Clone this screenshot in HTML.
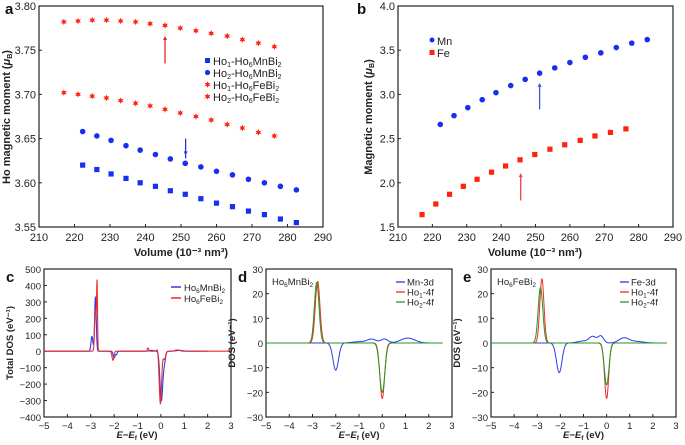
<!DOCTYPE html>
<html><head><meta charset="utf-8">
<style>
html,body{margin:0;padding:0;background:#fff;}
svg{display:block;font-family:"Liberation Sans",Arial,sans-serif;}
.tk{font-size:11px;fill:#222;}
.tks{font-size:9.5px;fill:#222;}
.ttl{font-size:11px;font-weight:bold;fill:#222;}
.ttls{font-size:9.5px;font-weight:bold;fill:#222;}
.pl{font-size:15px;font-weight:bold;fill:#111;}
</style></head>
<body>
<svg id="fig" width="685" height="445" viewBox="0 0 685 445"></svg>
<script>
// ---- panel a data ----
const volMn = [222.3,226.3,230.3,234.5,238.5,242.8,247,251.2,255.6,260,264.5,269,273.5,278,282.5];
const volFe = [217,221,225,229,233,237.2,241.3,245.5,249.8,254.2,258.5,263,267.3,271.8,276.3];
const ho1Mn = [3.620,3.615,3.610,3.605,3.600,3.596,3.591,3.587,3.582,3.577,3.573,3.568,3.564,3.559,3.555];
const ho2Mn = [3.658,3.653,3.648,3.642,3.637,3.632,3.627,3.622,3.618,3.613,3.609,3.604,3.600,3.596,3.592];
const ho1Fe = [3.702,3.700,3.698,3.696,3.693,3.690,3.687,3.683,3.679,3.675,3.671,3.666,3.662,3.657,3.653];
const ho2Fe = [3.782,3.783,3.784,3.784,3.783,3.782,3.780,3.778,3.775,3.772,3.769,3.766,3.762,3.758,3.754];
const aYTicks = [3.55,3.60,3.65,3.70,3.75,3.80];
const volTicks = [210,220,230,240,250,260,270,280,290];
// ---- panel b data ----
const momMn = [2.66,2.76,2.85,2.94,3.02,3.10,3.17,3.24,3.30,3.36,3.42,3.47,3.53,3.58,3.62];
const momFe = [1.64,1.76,1.87,1.96,2.04,2.12,2.19,2.26,2.32,2.38,2.43,2.48,2.53,2.57,2.61];
const bYTicks = [1.5,2.0,2.5,3.0,3.5,4.0];
// ---- DOS peaks: [center eV, height, width] ----
const eTicks = [-5,-4,-3,-2,-1,0,1,2,3];
const cYTicks = [-400,-300,-200,-100,0,100,200,300,400,500];
const pdYTicks = [-30,-20,-10,0,10,20,30];
const totMn = [[-2.8,330,0.035],[-2.95,90,0.04],[-2.0,-40,0.04],[-1.9,-20,0.03],[0.02,-300,0.06],[0.15,-60,0.05],[-0.4,5,0.1],[0.8,5,0.15]];
const totFe = [[-2.73,400,0.02],[-2.8,250,0.035],[-2.05,-55,0.04],[-0.02,-320,0.05],[0.15,-50,0.05],[-0.55,20,0.03],[-0.15,15,0.03],[0.7,8,0.1]];
const dMn3d = [[-2.0,-11,0.12],[-0.45,1.5,0.2],[0.1,1.6,0.15],[1.1,2.0,0.3],[-1.0,0.5,0.3]];
const dHo1 = [[-2.78,25,0.1],[0.0,-22.5,0.1]];
const dHo2 = [[-2.82,24.5,0.1],[0.0,-20,0.11]];
const eFe3d = [[-2.05,-12,0.12],[-0.6,2.5,0.15],[-0.25,2.8,0.12],[0.75,2.0,0.22],[-1.0,0.8,0.25],[1.3,0.6,0.3]];
const eHo1 = [[-2.8,26,0.09],[0.0,-22.5,0.09]];
const eHo2 = [[-2.86,22.5,0.1],[0.0,-17,0.1]];

const NS="http://www.w3.org/2000/svg";
const svg=document.getElementById('fig');
function mk(tag,attrs,parent,text){const e=document.createElementNS(NS,tag);for(const k in attrs)e.setAttribute(k,attrs[k]);if(text!==undefined)e.textContent=text;(parent||svg).appendChild(e);return e;}
function lin(d0,d1,r0,r1){return v=>r0+(v-d0)*(r1-r0)/(d1-d0);}
const defs=mk('defs',{});

function axesBox(name,L,R,T,B,xs,ys,xt,yt,fmtY,cls){
  const g=mk('g',{});
  
  
  mk('rect',{x:L,y:T,width:R-L,height:B-T,fill:'none',stroke:'#222','stroke-width':1.2},g);
  xt.forEach(v=>{const x=xs(v);mk('line',{x1:x,x2:x,y1:B,y2:B-3,stroke:'#222'},g);
    mk('text',{x:x,y:B+(cls==='tk'?14:12),'text-anchor':'middle',class:cls},g,(v<0?'\u2212'+(-v):String(v)));});
  yt.forEach(v=>{const y=ys(v);mk('line',{x1:L,x2:L+3,y1:y,y2:y,stroke:'#222'},g);
    mk('text',{x:L-3,y:y+4,'text-anchor':'end',class:cls},g,fmtY(v));});
  return g;
}
function star(g,x,y){const p=[];for(let i=0;i<12;i++){const r=i%2?1.6:3.4;const a=Math.PI*i/6;p.push((x+r*Math.sin(a)).toFixed(2)+','+(y-r*Math.cos(a)).toFixed(2));}
  return mk('polygon',{points:p.join(' '),fill:'#f21'},g);}
function arrow(x,y0,y1,col){mk('line',{x1:x,x2:x,y1:y0,y2:y1+3,stroke:col,'stroke-width':1.3});
  const d=y1<y0?-1:1; mk('polygon',{points:`${x-2},${y1-d*4} ${x+2},${y1-d*4} ${x},${y1}`,fill:col});}
function muLabel(x,y,txt){const t=mk('text',{x:0,y:0,'text-anchor':'middle',class:'ttl',transform:`translate(${x},${y}) rotate(-90)`});
  mk('tspan',{},t,txt+' (');mk('tspan',{'font-style':'italic'},t,'μ');mk('tspan',{'font-size':'7px',dy:2},t,'B');mk('tspan',{dy:-2},t,')');}

// ===== panel a =====
{const L=39,R=323,T=6,B=227;const xs=lin(210,290,L,R),ys=lin(3.55,3.80,B,T);
 axesBox('panel-a-axes',L,R,T,B,xs,ys,volTicks,aYTicks,v=>v.toFixed(2),'tk');
 const g=mk('g',{});
 volMn.forEach((v,i)=>{const s=mk('rect',{x:xs(v)-2.6,y:ys(ho1Mn[i])-2.6,width:5.2,height:5.2,fill:'#1530ee'},g);});
 volMn.forEach((v,i)=>{const s=mk('circle',{cx:xs(v),cy:ys(ho2Mn[i]),r:2.8,fill:'#1530ee'},g);});
 volFe.forEach((v,i)=>{const s=star(g,xs(v),ys(ho1Fe[i]));});
 volFe.forEach((v,i)=>{const s=star(g,xs(v),ys(ho2Fe[i]));});
 arrow(xs(245.5),ys(3.735),ys(3.766),'#e22');
 arrow(xs(251.3),ys(3.650),ys(3.631),'#2233dd');
 mk('text',{x:5,y:14,class:'pl'},null,'a');
 mk('text',{x:181,y:256,'text-anchor':'middle',class:'ttl'},null,'Volume (10⁻³ nm³)');
 muLabel(10,117,'Ho magnetic moment');
 const lg=mk('g',{});
 const labs=[['Ho','1','-Ho','6','MnBi','2'],['Ho','2','-Ho','6','MnBi','2'],['Ho','1','-Ho','6','FeBi','2'],['Ho','2','-Ho','6','FeBi','2']];
 labs.forEach((l,i)=>{const y=61+i*12;
  if(i==0)mk('rect',{x:205,y:y-3,width:5,height:5,fill:'#1530ee'},lg);
  else if(i==1)mk('circle',{cx:207.5,cy:y-0.5,r:2.6,fill:'#1530ee'},lg);
  else star(lg,207.5,y-0.5);
  const t=mk('text',{x:213,y:y+4,class:'tk'},lg);
  l.forEach((s,j)=>{mk('tspan',j%2?{'font-size':'7px',dy:2}:{dy:j?-2:0},t,s);});
 });}

// ===== panel b =====
{const L=398,R=673,T=6,B=227;const xs=lin(210,290,L,R),ys=lin(1.5,4.0,B,T);
 axesBox('panel-b-axes',L,R,T,B,xs,ys,volTicks,bYTicks,v=>v.toFixed(1),'tk');
 const g=mk('g',{});
 volMn.forEach((v,i)=>{const s=mk('circle',{cx:xs(v),cy:ys(momMn[i]),r:2.8,fill:'#1530ee'},g);});
 volFe.forEach((v,i)=>{const s=mk('rect',{x:xs(v)-2.6,y:ys(momFe[i])-2.6,width:5.2,height:5.2,fill:'#f21'},g);});
 arrow(xs(251.2),ys(2.83),ys(3.13),'#4455dd');
 arrow(xs(245.7),ys(1.80),ys(2.11),'#e44');
 mk('text',{x:357,y:14,class:'pl'},null,'b');
 mk('text',{x:535,y:256,'text-anchor':'middle',class:'ttl'},null,'Volume (10⁻³ nm³)');
 muLabel(372,117,'Magnetic moment');
 const lg=mk('g',{});
 mk('circle',{cx:432,cy:40,r:2.5,fill:'#1530ee'},lg);mk('text',{x:437,y:45,class:'tk'},lg,'Mn');
 mk('rect',{x:429.5,y:50,width:5,height:5,fill:'#f21'},lg);mk('text',{x:437,y:57,class:'tk'},lg,'Fe');}

// ===== DOS panels =====
function curve(peaks,e0,e1){const pts=[];for(let e=e0;e<=e1+1e-9;e+=0.01){let v=0;peaks.forEach(p=>{v+=p[1]*Math.exp(-0.5*((e-p[0])/p[2])**2);});pts.push([e,v]);}return pts;}
function drawCurve(name,peaks,xs,ys,col,w,e1,clip){const pts=curve(peaks,-5,e1);
  const p=mk('path',{d:'M'+pts.map(q=>xs(q[0]).toFixed(2)+','+ys(q[1]).toFixed(2)).join('L'),fill:'none',stroke:col,'stroke-width':w,'stroke-linejoin':'round','clip-path':`url(#${clip})`});
  }
function sub(t,parts){parts.forEach((s,j)=>mk('tspan',j%2?{'font-size':'6.5px',dy:2}:{dy:j?-2:0},t,s));}
function eLabel(x,y){const t=mk('text',{x:x,y:y,'text-anchor':'middle',class:'ttls'});
  mk('tspan',{'font-style':'italic'},t,'E');mk('tspan',{},t,'−');mk('tspan',{'font-style':'italic'},t,'E');
  mk('tspan',{'font-size':'6.5px',dy:2},t,'f');mk('tspan',{dy:-2},t,' (eV)');}
function clipRect(id,L,R,T,B){const c=mk('clipPath',{id:id},defs);mk('rect',{x:L,y:T,width:R-L,height:B-T},c);}

// c
{const L=44,R=231,T=269,B=417;const xs=lin(-5,3,L,R),ys=lin(-400,500,B,T);
 clipRect('clipc',L,R,T-3,B);
 axesBox('panel-c-axes',L,R,T,B,xs,ys,eTicks,cYTicks,v=>v<0?'\u2212'+(-v):String(v),'tks');
 drawCurve('total-dos-mn',totMn,xs,ys,'#2a3be8',1.1,2.0,'clipc');
 drawCurve('total-dos-fe',totFe,xs,ys,'#f02a2a',1.1,3.0,'clipc');
 mk('text',{x:6,y:282,class:'pl'},null,'c');
 eLabel(137,438);
 mk('text',{x:0,y:0,'text-anchor':'middle',class:'ttls',transform:'translate(13,343) rotate(-90)'},null,'Total DOS (eV⁻¹)');
 const lg=mk('g',{});
 mk('line',{x1:171,x2:181,y1:287,y2:287,stroke:'#2a3be8','stroke-width':1.5},lg);
 sub(mk('text',{x:184,y:291,class:'tks'},lg),['Ho','6','MnBi','2']);
 mk('line',{x1:171,x2:181,y1:298,y2:298,stroke:'#f06060','stroke-width':2},lg);
 sub(mk('text',{x:184,y:302,class:'tks'},lg),['Ho','6','FeBi','2']);}

function pdos(id,letter,L,R,comp,tm,tmLabel,ho1,ho2,lx){
 const T=269,B=417;const xs=lin(-5,3,L,R),ys=lin(-30,30,B,T);
 clipRect('clip'+id,L,R,T,B);
 axesBox('panel-'+id+'-axes',L,R,T,B,xs,ys,eTicks,pdYTicks,v=>v<0?'\u2212'+(-v):String(v),'tks');
 drawCurve(id+'-tm-3d',tm,xs,ys,'#2a3be8',1,2.6,'clip'+id);
 drawCurve(id+'-ho1-4f',ho1,xs,ys,'#f02a2a',1,2.6,'clip'+id);
 drawCurve(id+'-ho2-4f',ho2,xs,ys,'#229922',1,2.6,'clip'+id);
 mk('text',{x:L-28,y:282,class:'pl'},null,letter);
 eLabel((L+R)/2,438);
 mk('text',{x:0,y:0,'text-anchor':'middle',class:'ttls',transform:`translate(${L-31},343) rotate(-90)`},null,'DOS (eV⁻¹)');
 sub(mk('text',{x:L+6,y:285,class:'tks'}),comp);
 const lg=mk('g',{});
 const cols=['#2a3be8','#f02a2a','#229922'];
 const labs=[[tmLabel],['Ho','1','-4f'],['Ho','2','-4f']];
 labs.forEach((l,i)=>{const y=282+i*10;mk('line',{x1:lx,x2:lx+9,y1:y,y2:y,stroke:cols[i],'stroke-width':1.3},lg);
   sub(mk('text',{x:lx+11,y:y+3.5,class:'tks'},lg),l);});
}
pdos('d','d',266,452,['Ho','6','MnBi','2'],dMn3d,'Mn-3d',dHo1,dHo2,396);
pdos('e','e',491,676,['Ho','6','FeBi','2'],eFe3d,'Fe-3d',eHo1,eHo2,620);
</script>
</body></html>
